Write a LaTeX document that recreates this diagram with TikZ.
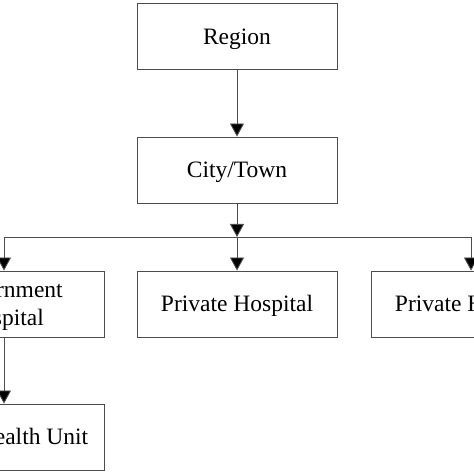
\documentclass[tikz,border=0pt]{standalone}
\usepackage{fontspec}
\setmainfont{Liberation Serif}
\usetikzlibrary{arrows.meta}
\begin{document}
\begin{tikzpicture}[x=1pt,y=1pt,
  box/.style={draw=black!70, line width=0.9pt, fill=white, minimum width=200pt, minimum height=66pt, inner sep=0pt, align=center, text height=15.5pt, text depth=0pt, font=\fontsize{23.5}{28}\selectfont},
  conn/.style={draw=black!70, line width=0.9pt},
  arr/.style={conn, -{Triangle[width=14pt,length=13pt,fill=black]}}]
\useasboundingbox (0,0) rectangle (474,474);
\clip (0,0) rectangle (474,474);
\node[box] (region) at (237,437.5) {Region};
\node[box] (city) at (237,304) {City/Town};
\node[box, text height=43.5pt] (gov) at (4,170) {Government\\Hospital};
\node[box] (ph) at (237,170) {Private Hospital};
\node[box] (pr) at (471,170) {Private Hospital};
\node[box] (rhu) at (4,37) {Rural Health Unit};
\coordinate (jn) at (237,237);
\draw[arr] (region) -- (city);
\draw[arr] (city) -- (jn);
\draw[arr] (jn) -- (ph);
\draw[arr] (jn) -| (gov.north);
\draw[arr] (jn) -| (pr.north);
\draw[arr] (gov) -- (rhu);
\end{tikzpicture}
\end{document}
